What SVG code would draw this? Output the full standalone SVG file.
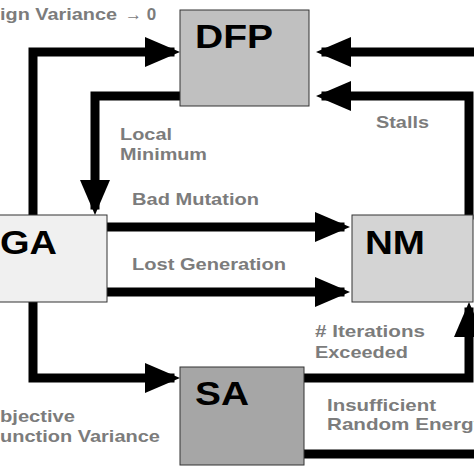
<svg xmlns="http://www.w3.org/2000/svg" width="474" height="474" viewBox="0 0 474 474">
<defs>
<style>
.box{stroke:#333;stroke-width:1}
.big{font-family:"Liberation Sans",Arial,sans-serif;font-weight:bold;font-size:34px;fill:#000}
.lbl{font-family:"Liberation Sans",Arial,sans-serif;font-weight:bold;font-size:17px;fill:#7c7c7c}
.conn{fill:none;stroke:#000;stroke-width:9;stroke-linejoin:miter;stroke-linecap:square}
</style>
<marker id="ah" markerUnits="userSpaceOnUse" markerWidth="36" markerHeight="32" refX="25" refY="15" orient="auto" overflow="visible">
<path d="M0,0 L35,15 L0,30 z" fill="#000"/>
</marker>
</defs>
<rect width="474" height="474" fill="#fff"/>
<g id="connectors">
<path class="conn" d="M33,215 V52 H170" marker-end="url(#ah)"/>
<path class="conn" d="M180,96 H95 V205" marker-end="url(#ah)"/>
<path class="conn" d="M480,52 H326" marker-end="url(#ah)"/>
<path class="conn" d="M469,215 V96 H326" marker-end="url(#ah)"/>
<path class="conn" d="M107,227 H340" marker-end="url(#ah)"/>
<path class="conn" d="M107,292 H340" marker-end="url(#ah)"/>
<path class="conn" d="M33,302 V378 H170" marker-end="url(#ah)"/>
<path class="conn" d="M304,378 H469 V312" marker-end="url(#ah)"/>
<path class="conn" d="M304,454 H480"/>
</g>
<g id="DFP">
<rect class="box" x="180" y="10" width="129" height="96" fill="#c0c0c0"/>
<text class="big" x="195" y="48" textLength="78" lengthAdjust="spacingAndGlyphs">DFP</text>
</g>
<g id="GA">
<rect class="box" x="-2" y="215" width="109" height="87" fill="#f0f0f0"/>
<text class="big" x="0" y="254" textLength="57" lengthAdjust="spacingAndGlyphs">GA</text>
</g>
<g id="NM">
<rect class="box" x="352" y="215" width="121" height="87" fill="#d4d4d4"/>
<text class="big" x="365" y="254" textLength="60" lengthAdjust="spacingAndGlyphs">NM</text>
</g>
<g id="SA">
<rect class="box" x="180" y="367" width="124" height="98" fill="#a6a6a6"/>
<text class="big" x="195" y="405" textLength="54" lengthAdjust="spacingAndGlyphs">SA</text>
</g>
<g id="labels">
<text class="lbl" x="0" y="20" textLength="117" lengthAdjust="spacingAndGlyphs">ign Variance</text>
<text class="lbl" x="125" y="20">→ 0</text>
<text class="lbl" x="120" y="140" textLength="52" lengthAdjust="spacingAndGlyphs">Local</text>
<text class="lbl" x="120" y="160" textLength="87" lengthAdjust="spacingAndGlyphs">Minimum</text>
<text class="lbl" x="132" y="205" textLength="127" lengthAdjust="spacingAndGlyphs">Bad Mutation</text>
<text class="lbl" x="132" y="270" textLength="154" lengthAdjust="spacingAndGlyphs">Lost Generation</text>
<text class="lbl" x="376" y="128" textLength="53" lengthAdjust="spacingAndGlyphs">Stalls</text>
<text class="lbl" x="315" y="337" textLength="110" lengthAdjust="spacingAndGlyphs"># Iterations</text>
<text class="lbl" x="315" y="358" textLength="93" lengthAdjust="spacingAndGlyphs">Exceeded</text>
<text class="lbl" x="327" y="411" textLength="109" lengthAdjust="spacingAndGlyphs">Insufficient</text>
<text class="lbl" x="327" y="430" textLength="158" lengthAdjust="spacingAndGlyphs">Random Energy</text>
<text class="lbl" x="0" y="422" textLength="75" lengthAdjust="spacingAndGlyphs">bjective</text>
<text class="lbl" x="0" y="442" textLength="160" lengthAdjust="spacingAndGlyphs">unction Variance</text>
</g>
</svg>
